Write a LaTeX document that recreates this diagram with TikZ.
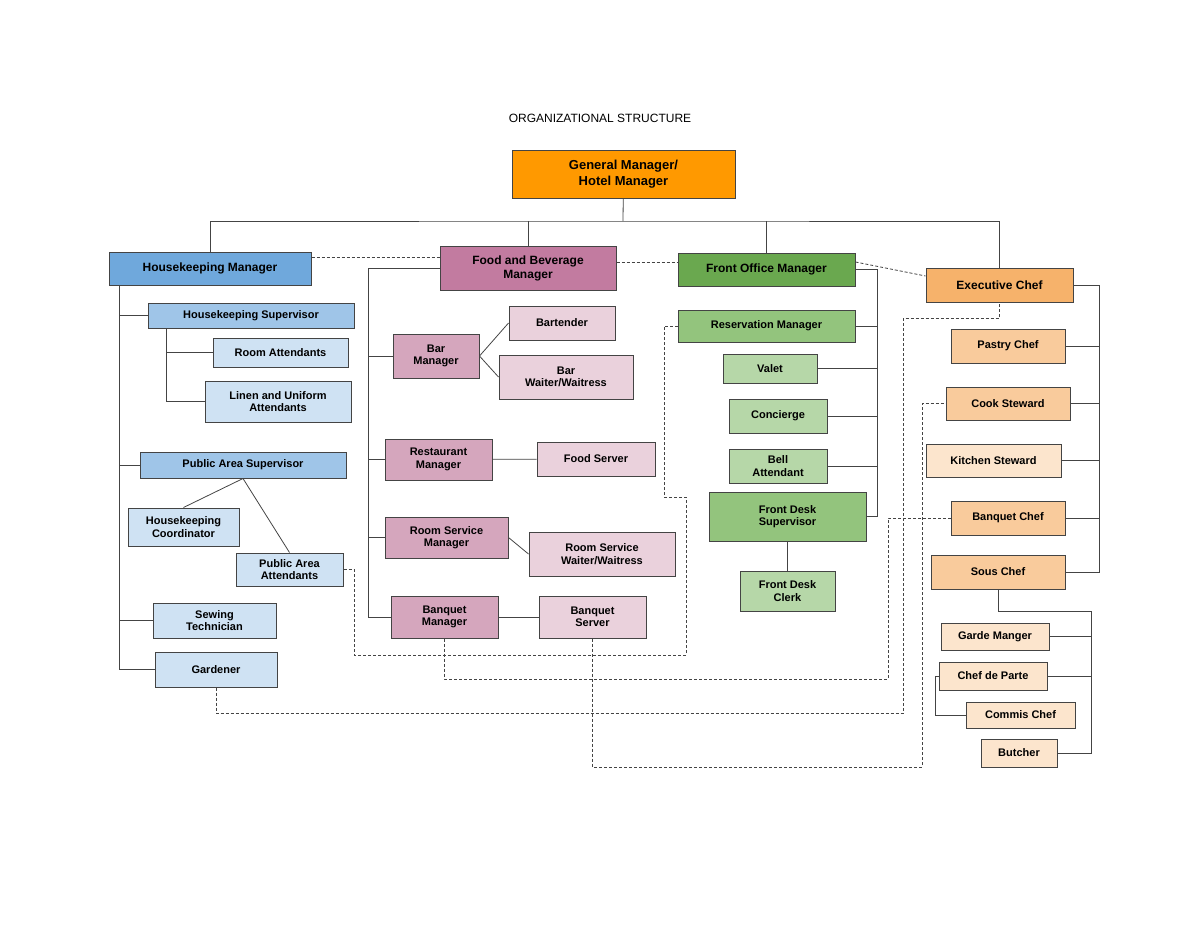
\documentclass[tikz,border=0pt]{standalone}
\usepackage{fontspec}
\setmainfont{Liberation Sans}
\usepackage{xcolor}
\definecolor{gmorange}{HTML}{FF9900}
\definecolor{hkdark}{HTML}{6FA8DC}
\definecolor{hkmid}{HTML}{9FC5E8}
\definecolor{hklight}{HTML}{CFE2F3}
\definecolor{fbdark}{HTML}{C27BA0}
\definecolor{fbmid}{HTML}{D5A6BD}
\definecolor{fblight}{HTML}{EAD1DC}
\definecolor{fodark}{HTML}{6AA84F}
\definecolor{fomid}{HTML}{93C47D}
\definecolor{folight}{HTML}{B6D7A8}
\definecolor{kdark}{HTML}{F6B26B}
\definecolor{kmid}{HTML}{F9CB9C}
\definecolor{klight}{HTML}{FCE5CD}
\definecolor{linegray}{HTML}{444444}

\begin{document}
\begin{tikzpicture}[x=1pt,y=-1pt]
  \tikzset{
    box/.style={draw=linegray,line width=1pt,align=center,inner sep=1pt,
      font={\fontsize{11}{12.5}\selectfont\bfseries}},
    link/.style={draw=linegray,line width=.8pt},
    dot/.style={draw=linegray,line width=.8pt,densely dashed}}
  \useasboundingbox (0,0) rectangle (1200,927);
  \node[font=\fontsize{12}{14}\selectfont] (title) at (600,118) {ORGANIZATIONAL STRUCTURE};
  % top
  \node[box,fill=gmorange,minimum width=223,minimum height=48,font={\fontsize{13}{16}\selectfont\bfseries}] (gm) at (623.5,174) {General Manager/\\Hotel Manager};
  \node[box,fill=hkdark,minimum width=202,minimum height=33,font={\fontsize{12}{14}\selectfont\bfseries}] (hkm) at (210,268.5) {Housekeeping Manager};
  \node[box,fill=fbdark,minimum width=176,minimum height=44,font={\fontsize{12}{14}\selectfont\bfseries}] (fbm) at (528,268) {Food and Beverage\\Manager};
  \node[box,fill=fodark,minimum width=177,minimum height=33,font={\fontsize{12}{14}\selectfont\bfseries}] (fom) at (766.5,269.5) {Front Office Manager};
  \node[box,fill=kdark,minimum width=147,minimum height=34,font={\fontsize{12}{14}\selectfont\bfseries}] (ec) at (999.5,285) {Executive Chef};
  % housekeeping
  \node[box,fill=hkmid,minimum width=206,minimum height=25] (hks) at (251,315.5) {Housekeeping Supervisor};
  \node[box,fill=hklight,minimum width=135,minimum height=29] (ra) at (280.5,352.5) {Room Attendants};
  \node[box,fill=hklight,minimum width=146,minimum height=41] (lua) at (278,401.5) {Linen and Uniform\\Attendants};
  \node[box,fill=hkmid,minimum width=206,minimum height=26] (pas) at (243,465) {Public Area Supervisor};
  \node[box,fill=hklight,minimum width=111,minimum height=38] (hkc) at (183.5,527) {Housekeeping\\Coordinator};
  \node[box,fill=hklight,minimum width=107,minimum height=33] (paa) at (289.5,569.5) {Public Area\\Attendants};
  \node[box,fill=hklight,minimum width=123,minimum height=35] (sew) at (214.5,620.5) {Sewing\\Technician};
  \node[box,fill=hklight,minimum width=122,minimum height=35] (gard) at (216,669.5) {Gardener};
  % food and beverage
  \node[box,fill=fbmid,minimum width=86,minimum height=44] (barm) at (436,356) {Bar\\Manager};
  \node[box,fill=fblight,minimum width=106,minimum height=34] (bart) at (562,323) {Bartender};
  \node[box,fill=fblight,minimum width=134,minimum height=44] (barw) at (566,377) {Bar\\Waiter/Waitress};
  \node[box,fill=fbmid,minimum width=107,minimum height=41] (restm) at (438.5,459.5) {Restaurant\\Manager};
  \node[box,fill=fblight,minimum width=118,minimum height=34] (food) at (596,459) {Food Server};
  \node[box,fill=fbmid,minimum width=123,minimum height=41] (rsm) at (446.5,537.5) {Room Service\\Manager};
  \node[box,fill=fblight,minimum width=146,minimum height=44] (rsw) at (602,554) {Room Service\\Waiter/Waitress};
  \node[box,fill=fbmid,minimum width=107,minimum height=42] (bqm) at (444.5,617) {Banquet\\Manager};
  \node[box,fill=fblight,minimum width=107,minimum height=42] (bqs) at (592.5,617) {Banquet\\Server};
  % front office
  \node[box,fill=fomid,minimum width=177,minimum height=32] (resm) at (766.5,326) {Reservation Manager};
  \node[box,fill=folight,minimum width=94,minimum height=29] (valet) at (770,368.5) {Valet};
  \node[box,fill=folight,minimum width=98,minimum height=34] (conc) at (778,416) {Concierge};
  \node[box,fill=folight,minimum width=98,minimum height=34] (bell) at (778,466) {Bell\\Attendant};
  \node[box,fill=fomid,minimum width=157,minimum height=49] (fds) at (787.5,516.5) {Front Desk\\Supervisor};
  \node[box,fill=folight,minimum width=95,minimum height=40] (fdc) at (787.5,591) {Front Desk\\Clerk};
  % kitchen
  \node[box,fill=kmid,minimum width=114,minimum height=34] (pastry) at (1008,346) {Pastry Chef};
  \node[box,fill=kmid,minimum width=124,minimum height=33] (cook) at (1008,403.5) {Cook Steward};
  \node[box,fill=klight,minimum width=135,minimum height=33] (kit) at (993.5,460.5) {Kitchen Steward};
  \node[box,fill=kmid,minimum width=114,minimum height=34] (bqc) at (1008,518) {Banquet Chef};
  \node[box,fill=kmid,minimum width=134,minimum height=34] (sous) at (998,572) {Sous Chef};
  \node[box,fill=klight,minimum width=108,minimum height=27] (garde) at (995,636.5) {Garde Manger};
  \node[box,fill=klight,minimum width=108,minimum height=28] (cdp) at (993,676) {Chef de Parte};
  \node[box,fill=klight,minimum width=109,minimum height=26] (commis) at (1020.5,715) {Commis Chef};
  \node[box,fill=klight,minimum width=76,minimum height=28] (butch) at (1019,753) {Butcher};
  % spines
  \coordinate (bus) at (623,221);
  \coordinate (hkx) at (119,0);
  \coordinate (hsx) at (166,0);
  \coordinate (fbx) at (368,0);
  \coordinate (fox) at (877,0);
  \coordinate (ecx) at (1099,0);
  \coordinate (sox) at (1091,611);
  \coordinate (cdx) at (935,0);
  % solid links
  \draw[link] (gm) -- (bus);
  \draw[link] (hkm.north) |- (bus) -| (ec.north);
  \draw[link] (fbm.north) -- (fbm.north |- bus);
  \draw[link] (fom.north) -- (fom.north |- bus);
  \draw[link] (hkx |- hkm.south) -- (hkx |- gard.west) -- (gard.west);
  \foreach \n in {hks,pas,sew} \draw[link] (hkx |- \n.west) -- (\n.west);
  \draw[link] (hsx |- hks.south) -- (hsx |- lua.west) -- (lua.west);
  \draw[link] (hsx |- ra.west) -- (ra.west);
  \draw[link] (pas.south) -- (hkc.north);
  \draw[link] (pas.south) -- (paa.north);
  \draw[link] (fbm.west) -| (fbx |- bqm.west) -- (bqm.west);
  \foreach \n in {barm,restm,rsm} \draw[link] (fbx |- \n.west) -- (\n.west);
  \draw[link] (barm.east) -- (bart.west);
  \draw[link] (barm.east) -- (barw.west);
  \draw[link] (restm) -- (food);
  \draw[link] (rsm.east) -- (rsw.west);
  \draw[link] (bqm) -- (bqs);
  \draw[link] (fom.east) -| (fox |- fds.east) -- (fds.east);
  \foreach \n in {resm,valet,conc,bell} \draw[link] (fox |- \n.east) -- (\n.east);
  \draw[link] (fds) -- (fdc);
  \draw[link] (ec.east) -| (ecx |- sous.east) -- (sous.east);
  \foreach \n in {pastry,cook,kit,bqc} \draw[link] (ecx |- \n.east) -- (\n.east);
  \draw[link] (sous.south) |- (sox) |- (butch.east);
  \foreach \n in {garde,cdp} \draw[link] (sox |- \n.east) -- (\n.east);
  \draw[link] (cdp.west) -| (cdx |- commis.west) -- (commis.west);
  % dashed links
  \draw[dot] (hkm.east |- 0,257) -- (fbm.west |- 0,257);
  \draw[dot] (fbm.east |- 0,262) -- (fom.west |- 0,262);
  \draw[dot] (fom.east |- 0,262) -- (ec.west |- 0,276);
  \draw[dot] (paa.east) -| (354,655) -| (686,497) -| (664,326) -- (resm.west);
  \draw[dot] (bqm.south) |- (888,679) |- (bqc.west);
  \draw[dot] (gard.south) |- (903,713) |- (ec.south |- 0,318) -- (ec.south);
  \draw[dot] (bqs.south) |- (922,767) |- (cook.west);
\end{tikzpicture}
\end{document}
